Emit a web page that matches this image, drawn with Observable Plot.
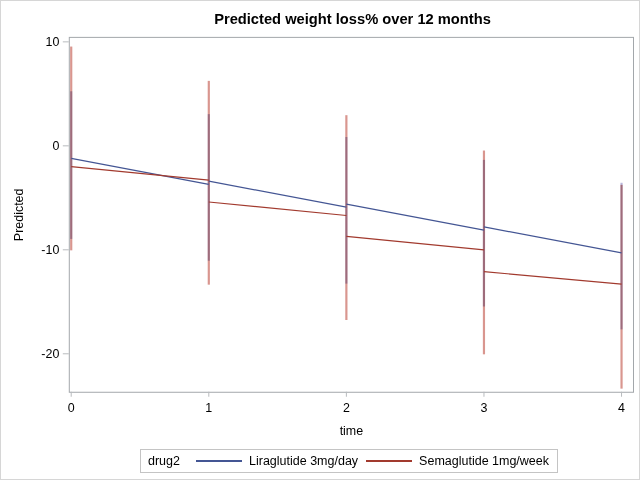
<!DOCTYPE html>
<html>
<head>
<meta charset="utf-8">
<script src="https://cdn.jsdelivr.net/npm/d3@7"></script>
<script src="https://cdn.jsdelivr.net/npm/@observablehq/plot@0.6"></script>
<style>
  html, body { margin: 0; padding: 0; background: #fff; }
  #wrap { position: relative; width: 640px; height: 480px; box-sizing: border-box; border: 1px solid #d6d6d6; font-family: "Liberation Sans", Arial, sans-serif; overflow: hidden; }
  #title { position: absolute; left: 68px; width: 567px; top: 10px; text-align: center; font-weight: bold; font-size: 14.7px; color: #000; }
  #chart { position: absolute; left: -1px; top: -1px; }
  #legend { position: absolute; left: 139px; top: 448px; width: 416px; height: 22px; border: 1px solid #c4c4c4; font-size: 12.5px; color: #000; display: flex; align-items: center; }
  #legend span { white-space: nowrap; }
  .sw { display: inline-block; width: 46px; height: 1.4px; margin: 0 7px 0 0; }
</style>
</head>
<body>
<div id="wrap">
  <div id="chart"></div>
  <div id="title">Predicted weight loss% over 12 months</div>
  <div id="legend"></div>
</div>
<script>
// ---- data ----
const drugs = ["Liraglutide 3mg/day", "Semaglutide 1mg/week"];
const colors = ["#445694", "#a23a2e"];
const barColors = ["#bab8dc", "#d9968f"];
const times = [0, 1, 2, 3, 4];
const xTicks = [0, 1, 2, 3, 4];
const yTicks = [10, 0, -10, -20];

// piecewise segments between consecutive times (start value at t, end value at t+1)
const liraStart = [-1.2, -3.4, -5.6, -7.8];
const liraEnd   = [-3.7, -5.9, -8.1, -10.3];
const semaStart = [-2.0, -5.4, -8.7, -12.1];
const semaEnd   = [-3.3, -6.7, -10.0, -13.3];

// interval bars at each time
const liraUpper = [5.2, 3.0, 0.8, -1.4, -3.6];
const liraLower = [-9.0, -11.1, -13.3, -15.5, -17.7];
const semaUpper = [9.5, 6.2, 2.9, -0.5, -3.8];
const semaLower = [-10.1, -13.4, -16.8, -20.1, -23.4];

// ---- build tables ----
const segs = [];
[[liraStart, liraEnd], [semaStart, semaEnd]].forEach(([s, e], k) => {
  s.forEach((v, i) => segs.push({drug: drugs[k], t1: times[i], t2: times[i + 1], y1: v, y2: e[i]}));
});
const bars = [];
[[semaUpper, semaLower, 1], [liraUpper, liraLower, 0]].forEach(([u, l, k]) => {
  times.forEach((t, i) => bars.push({drug: drugs[k], t, hi: u[i], lo: l[i]}));
});

const frameColor = "#a3a7ab";
const plot = Plot.plot({
  width: 641,
  height: 441,
  marginLeft: 69,
  marginRight: 6,
  marginTop: 37,
  marginBottom: 48,
  style: {fontFamily: "Liberation Sans, Arial, sans-serif", fontSize: "12px", background: "transparent", color: "#000"},
  x: {domain: [-0.014, 4.087], ticks: xTicks},
  y: {domain: [-23.7, 10.43], ticks: yTicks},
  color: {domain: drugs, range: colors},
  marks: [
    Plot.frame({stroke: frameColor}),
    Plot.ruleX(bars, {x: "t", y1: "lo", y2: "hi", stroke: d => barColors[drugs.indexOf(d.drug)], strokeWidth: 2.2, mixBlendMode: "multiply"}),
    Plot.link(segs, {x1: "t1", x2: "t2", y1: "y1", y2: "y2", stroke: "drug", strokeWidth: 1.2}),
    Plot.axisX({ticks: xTicks, tickFormat: d => String(d), tickSize: 5, tickPadding: 6, stroke: "#b8bbbe", fontSize: 12.5, label: "time", labelAnchor: "center", labelArrow: "none", labelOffset: 43, fill: "#000"}),
    Plot.axisY({ticks: yTicks, tickFormat: d => String(d), tickSize: 6, tickPadding: 4, stroke: "#b8bbbe", fontSize: 12.5, label: "Predicted", labelAnchor: "center", labelArrow: "none", labelOffset: 55, fill: "#000"})
  ]
});
document.getElementById("chart").appendChild(plot);

// legend
const lg = document.getElementById("legend");
let html = '<span style="margin-left:7px;margin-right:12px">drug2</span>';
drugs.forEach((d, i) => {
  html += `<span class="sw" style="background:${colors[i]};margin-left:${i ? 8 : 4}px"></span><span>${d}</span>`;
});
lg.innerHTML = html;
</script>
</body>
</html>
